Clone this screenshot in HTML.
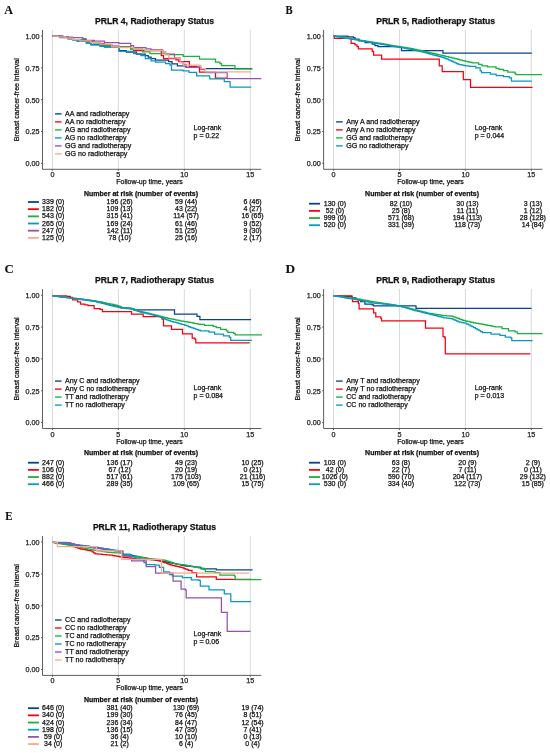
<!DOCTYPE html>
<html><head><meta charset="utf-8"><style>
html,body{margin:0;padding:0;background:#fff;}
svg{display:block;will-change:transform;-webkit-font-smoothing:antialiased;} text{stroke:#111;stroke-width:0.25px;font-family:"Liberation Sans", sans-serif;}
</style></head><body>
<svg width="550" height="753" viewBox="0 0 550 753">
<rect width="550" height="753" fill="#fff"/>
<g transform="translate(0,0)">
<text transform="translate(4.24,13.8) scale(0.91,1)" style="font-family:'Liberation Serif', serif;stroke-width:0.1px" font-weight="bold" font-size="13.3" fill="#111">A</text>
<text x="154.5" y="24.1" text-anchor="middle" font-weight="bold" font-size="8.6" fill="#111">PRLR 4, Radiotherapy Status</text>
<line x1="52.4" y1="29.9" x2="52.4" y2="169.3" stroke="#cbcbcb" stroke-width="0.75"/>
<line x1="118.35" y1="29.9" x2="118.35" y2="169.3" stroke="#cbcbcb" stroke-width="0.75"/>
<line x1="184.3" y1="29.9" x2="184.3" y2="169.3" stroke="#cbcbcb" stroke-width="0.75"/>
<line x1="250.25" y1="29.9" x2="250.25" y2="169.3" stroke="#cbcbcb" stroke-width="0.75"/>
<path d="M42.5 29.9V169.3H261.3" fill="none" stroke="#4d4d4d" stroke-width="0.9"/>
<line x1="41" y1="36" x2="42.5" y2="36" stroke="#4d4d4d" stroke-width="0.9"/>
<text x="39.6" y="38.85" text-anchor="end" font-size="7.2" fill="#333333" stroke="#333333">1.00</text>
<line x1="41" y1="67.84" x2="42.5" y2="67.84" stroke="#4d4d4d" stroke-width="0.9"/>
<text x="39.6" y="70.69" text-anchor="end" font-size="7.2" fill="#333333" stroke="#333333">0.75</text>
<line x1="41" y1="99.67" x2="42.5" y2="99.67" stroke="#4d4d4d" stroke-width="0.9"/>
<text x="39.6" y="102.52" text-anchor="end" font-size="7.2" fill="#333333" stroke="#333333">0.50</text>
<line x1="41" y1="131.51" x2="42.5" y2="131.51" stroke="#4d4d4d" stroke-width="0.9"/>
<text x="39.6" y="134.36" text-anchor="end" font-size="7.2" fill="#333333" stroke="#333333">0.25</text>
<line x1="41" y1="163.35" x2="42.5" y2="163.35" stroke="#4d4d4d" stroke-width="0.9"/>
<text x="39.6" y="166.2" text-anchor="end" font-size="7.2" fill="#333333" stroke="#333333">0.00</text>
<line x1="52.4" y1="169.3" x2="52.4" y2="170.8" stroke="#4d4d4d" stroke-width="0.9"/>
<text x="52.4" y="177.3" text-anchor="middle" font-size="7.2" fill="#333333" stroke="#333333">0</text>
<line x1="118.35" y1="169.3" x2="118.35" y2="170.8" stroke="#4d4d4d" stroke-width="0.9"/>
<text x="118.35" y="177.3" text-anchor="middle" font-size="7.2" fill="#333333" stroke="#333333">5</text>
<line x1="184.3" y1="169.3" x2="184.3" y2="170.8" stroke="#4d4d4d" stroke-width="0.9"/>
<text x="184.3" y="177.3" text-anchor="middle" font-size="7.2" fill="#333333" stroke="#333333">10</text>
<line x1="250.25" y1="169.3" x2="250.25" y2="170.8" stroke="#4d4d4d" stroke-width="0.9"/>
<text x="250.25" y="177.3" text-anchor="middle" font-size="7.2" fill="#333333" stroke="#333333">15</text>
<text x="149.5" y="184.2" text-anchor="middle" font-size="7" fill="#111">Follow-up time, years</text>
<text transform="translate(18.9,99.7) rotate(-90)" text-anchor="middle" font-size="7.1" fill="#111">Breast cancer-free interval</text>
</g>
<path d="M52.5 36.1H60V37.3H68V38.6H72.7V39.6H77.3V41.1H86.4V42.9H91V44.5H100V45.9H104.5V46.9H119.1V50.6H126.4V52H136.5V54.2H145.3V55.7H148.2V57.2H151.1V58.6H155.5V60H168.6V61.5H172V63.8H177.4V65.8H186V67.3H199.5V68.6H252" fill="none" stroke="#0a428c" stroke-width="1.25"/>
<path d="M52.5 36.1H62V37.3H72.7V39.5H80V40.6H86V41.4H93V42.5H100V43.5H104.5V44.8H111.8V46.2H119V46.9H130.7V48.8H133.6V50.6H161.3V55.7H163.5V58.6H176V59.8H178.8V61.5H189.4V66.4H196.6V67.1H199.5V72.2H215.5V78H227.2" fill="none" stroke="#f70012" stroke-width="1.25"/>
<path d="M52.5 36.1H62V37.3H72.7V39.6H86V41.8H93.7V42.8H100V44.5H104.5V45.3H111.8V46.9H130.7V49.1H142.4V51.8H150V53.5H165.6V54.5H183.2V56.4H199.5V59.1H215.5V62H220V63.5H221.4V65.7H235V68.9H252.6" fill="none" stroke="#18b23c" stroke-width="1.25"/>
<path d="M52.5 36.1H60V37.6H68V38.8H72.7V39.8H77.3V41.4H86.4V43.2H91V44.8H100V46.4H104.5V47.1H119.1V51.3H133.6V53.5H140.9V55.7H145.3V58.6H151.1V60.8H155.5V62.2H165.6V63.7H170V65.1H171.5V70.2H183V70.9H189V72.4H196.6V75.8H209.7V78.8H224.3V81.7H230.1V87.2H251.2" fill="none" stroke="#0a98be" stroke-width="1.25"/>
<path d="M52.5 36.1H63V36.8H68.2V37.6H82.7V38.5H86V40.4H94.4V41.1H104.5V42.6H119V43.3H130.7V45.5H133.6V47.7H146V48.8H151V49.8H162.7V52H165.6V53.5H168.6V54.2H174.5V57.8H180.3V61.5H183.2V64.4H186V67.3H201V69.3H205.4V72.6H227.2V78.5H261.4" fill="none" stroke="#9850b0" stroke-width="1.25"/>
<path d="M52.5 36.1H58V36.8H65.5V38.2H72.7V39.6H80V40.9H90.9V42.3H100V44.1H111.8V46.8H119V47.7H133.6V49.1H145V50.6H162.8V52.8H165.6V54.2H168.6V57.8H180.3V62.9H183.2V65.1H199.5V65.7H201V68.6H205.4V71.9H251.2" fill="none" stroke="#fca889" stroke-width="1.25"/>
<g transform="translate(0,0)">
<line x1="55" y1="113.9" x2="61.6" y2="113.9" stroke="#0a428c" stroke-width="1.35"/>
<text x="65.1" y="116.1" font-size="7.1" fill="#111">AA and radiotherapy</text>
<line x1="55" y1="121.9" x2="61.6" y2="121.9" stroke="#f70012" stroke-width="1.35"/>
<text x="65.1" y="124.1" font-size="7.1" fill="#111">AA no radiotherapy</text>
<line x1="55" y1="129.9" x2="61.6" y2="129.9" stroke="#18b23c" stroke-width="1.35"/>
<text x="65.1" y="132.1" font-size="7.1" fill="#111">AG and radiotherapy</text>
<line x1="55" y1="137.9" x2="61.6" y2="137.9" stroke="#0a98be" stroke-width="1.35"/>
<text x="65.1" y="140.1" font-size="7.1" fill="#111">AG no radiotherapy</text>
<line x1="55" y1="145.9" x2="61.6" y2="145.9" stroke="#9850b0" stroke-width="1.35"/>
<text x="65.1" y="148.1" font-size="7.1" fill="#111">GG and radiotherapy</text>
<line x1="55" y1="153.9" x2="61.6" y2="153.9" stroke="#fca889" stroke-width="1.35"/>
<text x="65.1" y="156.1" font-size="7.1" fill="#111">GG no radiotherapy</text>
<text x="193.6" y="130.3" font-size="7" fill="#111">Log-rank</text>
<text x="193.6" y="138" font-size="7" fill="#111">p = 0.22</text>
<text x="84" y="195.6" font-weight="bold" font-size="7" fill="#111">Number at risk (number of events)</text>
<line x1="27.9" y1="202" x2="38.9" y2="202" stroke="#0a428c" stroke-width="1.8"/>
<text x="53.2" y="204" text-anchor="middle" font-size="7" fill="#111">339 (0)</text>
<text x="119.65" y="204" text-anchor="middle" font-size="7" fill="#111">196 (26)</text>
<text x="186.1" y="204" text-anchor="middle" font-size="7" fill="#111">59 (44)</text>
<text x="252.55" y="204" text-anchor="middle" font-size="7" fill="#111">6 (46)</text>
<line x1="27.9" y1="209.17" x2="38.9" y2="209.17" stroke="#f70012" stroke-width="1.8"/>
<text x="53.2" y="211.17" text-anchor="middle" font-size="7" fill="#111">182 (0)</text>
<text x="119.65" y="211.17" text-anchor="middle" font-size="7" fill="#111">109 (13)</text>
<text x="186.1" y="211.17" text-anchor="middle" font-size="7" fill="#111">43 (22)</text>
<text x="252.55" y="211.17" text-anchor="middle" font-size="7" fill="#111">4 (27)</text>
<line x1="27.9" y1="216.34" x2="38.9" y2="216.34" stroke="#18b23c" stroke-width="1.8"/>
<text x="53.2" y="218.34" text-anchor="middle" font-size="7" fill="#111">543 (0)</text>
<text x="119.65" y="218.34" text-anchor="middle" font-size="7" fill="#111">315 (41)</text>
<text x="186.1" y="218.34" text-anchor="middle" font-size="7" fill="#111">114 (57)</text>
<text x="252.55" y="218.34" text-anchor="middle" font-size="7" fill="#111">16 (65)</text>
<line x1="27.9" y1="223.51" x2="38.9" y2="223.51" stroke="#0a98be" stroke-width="1.8"/>
<text x="53.2" y="225.51" text-anchor="middle" font-size="7" fill="#111">265 (0)</text>
<text x="119.65" y="225.51" text-anchor="middle" font-size="7" fill="#111">169 (24)</text>
<text x="186.1" y="225.51" text-anchor="middle" font-size="7" fill="#111">61 (46)</text>
<text x="252.55" y="225.51" text-anchor="middle" font-size="7" fill="#111">9 (52)</text>
<line x1="27.9" y1="230.68" x2="38.9" y2="230.68" stroke="#9850b0" stroke-width="1.8"/>
<text x="53.2" y="232.68" text-anchor="middle" font-size="7" fill="#111">247 (0)</text>
<text x="119.65" y="232.68" text-anchor="middle" font-size="7" fill="#111">142 (11)</text>
<text x="186.1" y="232.68" text-anchor="middle" font-size="7" fill="#111">51 (25)</text>
<text x="252.55" y="232.68" text-anchor="middle" font-size="7" fill="#111">9 (30)</text>
<line x1="27.9" y1="237.85" x2="38.9" y2="237.85" stroke="#fca889" stroke-width="1.8"/>
<text x="53.2" y="239.85" text-anchor="middle" font-size="7" fill="#111">125 (0)</text>
<text x="119.65" y="239.85" text-anchor="middle" font-size="7" fill="#111">78 (10)</text>
<text x="186.1" y="239.85" text-anchor="middle" font-size="7" fill="#111">25 (16)</text>
<text x="252.55" y="239.85" text-anchor="middle" font-size="7" fill="#111">2 (17)</text>
</g>
<g transform="translate(281.1,0)">
<text transform="translate(4.32,13.8) scale(0.8,1)" style="font-family:'Liberation Serif', serif;stroke-width:0.1px" font-weight="bold" font-size="13.3" fill="#111">B</text>
<text x="154.5" y="24.1" text-anchor="middle" font-weight="bold" font-size="8.6" fill="#111">PRLR 5, Radiotherapy Status</text>
<line x1="52.4" y1="29.9" x2="52.4" y2="169.3" stroke="#cbcbcb" stroke-width="0.75"/>
<line x1="118.35" y1="29.9" x2="118.35" y2="169.3" stroke="#cbcbcb" stroke-width="0.75"/>
<line x1="184.3" y1="29.9" x2="184.3" y2="169.3" stroke="#cbcbcb" stroke-width="0.75"/>
<line x1="250.25" y1="29.9" x2="250.25" y2="169.3" stroke="#cbcbcb" stroke-width="0.75"/>
<path d="M42.5 29.9V169.3H261.3" fill="none" stroke="#4d4d4d" stroke-width="0.9"/>
<line x1="41" y1="36" x2="42.5" y2="36" stroke="#4d4d4d" stroke-width="0.9"/>
<text x="39.6" y="38.85" text-anchor="end" font-size="7.2" fill="#333333" stroke="#333333">1.00</text>
<line x1="41" y1="67.84" x2="42.5" y2="67.84" stroke="#4d4d4d" stroke-width="0.9"/>
<text x="39.6" y="70.69" text-anchor="end" font-size="7.2" fill="#333333" stroke="#333333">0.75</text>
<line x1="41" y1="99.67" x2="42.5" y2="99.67" stroke="#4d4d4d" stroke-width="0.9"/>
<text x="39.6" y="102.52" text-anchor="end" font-size="7.2" fill="#333333" stroke="#333333">0.50</text>
<line x1="41" y1="131.51" x2="42.5" y2="131.51" stroke="#4d4d4d" stroke-width="0.9"/>
<text x="39.6" y="134.36" text-anchor="end" font-size="7.2" fill="#333333" stroke="#333333">0.25</text>
<line x1="41" y1="163.35" x2="42.5" y2="163.35" stroke="#4d4d4d" stroke-width="0.9"/>
<text x="39.6" y="166.2" text-anchor="end" font-size="7.2" fill="#333333" stroke="#333333">0.00</text>
<line x1="52.4" y1="169.3" x2="52.4" y2="170.8" stroke="#4d4d4d" stroke-width="0.9"/>
<text x="52.4" y="177.3" text-anchor="middle" font-size="7.2" fill="#333333" stroke="#333333">0</text>
<line x1="118.35" y1="169.3" x2="118.35" y2="170.8" stroke="#4d4d4d" stroke-width="0.9"/>
<text x="118.35" y="177.3" text-anchor="middle" font-size="7.2" fill="#333333" stroke="#333333">5</text>
<line x1="184.3" y1="169.3" x2="184.3" y2="170.8" stroke="#4d4d4d" stroke-width="0.9"/>
<text x="184.3" y="177.3" text-anchor="middle" font-size="7.2" fill="#333333" stroke="#333333">10</text>
<line x1="250.25" y1="169.3" x2="250.25" y2="170.8" stroke="#4d4d4d" stroke-width="0.9"/>
<text x="250.25" y="177.3" text-anchor="middle" font-size="7.2" fill="#333333" stroke="#333333">15</text>
<text x="149.5" y="184.2" text-anchor="middle" font-size="7" fill="#111">Follow-up time, years</text>
<text transform="translate(18.9,99.7) rotate(-90)" text-anchor="middle" font-size="7.1" fill="#111">Breast cancer-free interval</text>
</g>
<path d="M333.6 36.1H348V36.8H353.3V37.6H355V39H359.1V40.8H365V42.6H372.2V44.1H375V45.5H378V46.6H399.8V46.8H401.5V50.5H442.9V53.1H531.8" fill="none" stroke="#0a428c" stroke-width="1.25"/>
<path d="M333.6 36.1H334.4V38.3H351.1V43.4H355V44.8H357V46.6H358.4V48.9H372.2V51.4H373.6V55H381.6V59.1H439.3V65.8H442.2V71.6H463.3V79.6H470.5V87.3H532.5" fill="none" stroke="#f70012" stroke-width="1.25"/>
<path d="M333.6 36.1H335.19V36.35H336.78V36.61H338.38V36.86H339.97V37.12H341.56V37.37H343.15V37.62H344.74V37.88H346.33V38.13H347.93V38.39H349.52V38.64H351.11V38.9H352.7V39.15H354.29V39.4H355.88V39.66H357.48V39.91H359.07V40.17H360.66V40.42H362.25V40.67H363.84V40.93H365.43V41.18H367.03V41.44H368.62V41.69H370.21V41.95H371.8V42.2H373.39V42.45H374.98V42.71H376.57V42.96H378.17V43.22H379.76V43.47H381.35V43.72H382.94V43.98H384.53V44.23H386.12V44.49H387.72V44.74H389.31V45H390.9V45.25H392.49V45.5H394.08V45.76H395.68V46.01H397.27V46.27H398.86V46.52H400.45V46.77H402.04V47.03H403.63V47.28H405.23V47.54H406.82V47.79H408.41V48.05H410V48.3H411.6V48.66H413.2V49.02H414.8V49.39H416.4V49.75H418V50.11H419.6V50.47H421.2V50.83H422.8V51.2H424.4V51.56H426V51.92H427.6V52.28H429.2V52.64H430.8V53H432.4V53.37H434V53.73H435.6V54.09H437.2V54.45H438.8V54.81H440.4V55.18H442V55.54H443.6V55.9H445.16V56.29H446.73V56.67H448.29V57.06H449.86V57.44H451.42V57.83H452.99V58.21H454.55V58.6H456.11V58.99H457.68V59.37H459.24V59.76H460.81V60.14H462.37V60.53H463.94V60.91H465.5V61.3H467.12V61.67H468.75V62.05H470.38V62.42H472V62.8H478.7V64.3H482V65.8H487.5V66.8H496V68.3H499V69.4H503.5V70.6H507.8V72H515V73.3H515.8V74.5H542" fill="none" stroke="#18b23c" stroke-width="1.25"/>
<path d="M333.6 36.1H335.19V36.37H336.78V36.65H338.38V36.92H339.97V37.2H341.56V37.47H343.15V37.75H344.74V38.02H346.33V38.3H347.93V38.57H349.52V38.85H351.11V39.12H352.7V39.4H354.29V39.67H355.88V39.95H357.48V40.22H359.07V40.5H360.66V40.77H362.25V41.05H363.84V41.32H365.43V41.6H367.03V41.87H368.62V42.15H370.21V42.42H371.8V42.7H373.39V42.97H374.98V43.25H376.57V43.52H378.17V43.8H379.76V44.07H381.35V44.35H382.94V44.62H384.53V44.9H386.12V45.17H387.72V45.45H389.31V45.72H390.9V46H392.49V46.27H394.08V46.55H395.68V46.82H397.27V47.1H398.86V47.38H400.45V47.65H402.04V47.92H403.63V48.2H405.23V48.47H406.82V48.75H408.41V49.02H410V49.3H411.69V49.67H413.37V50.04H415.06V50.41H416.74V50.79H418.43V51.16H420.11V51.53H421.8V51.9H423.36V52.32H424.91V52.74H426.47V53.16H428.03V53.59H429.59V54.01H431.14V54.43H432.7V54.85H434.26V55.27H435.81V55.69H437.37V56.11H438.93V56.54H440.49V56.96H442.04V57.38H443.6V57.8H445.22V58.52H446.84V59.24H448.47V59.97H450.09V60.69H451.71V61.41H453.33V62.13H454.96V62.86H456.58V63.58H458.2V64.3H459.66V64.6H461.12V64.9H462.58V65.2H464.04V65.5H465.5V65.8H467V65.97H468.5V66.13H470V66.3H475.8V67.8H480.2V70.8H481.6V72.6H490.4V74H496.2V75.5H503.5V76.7H509.3V77.8H511.5V81H531.8" fill="none" stroke="#0a98be" stroke-width="1.25"/>
<g transform="translate(281.1,0)">
<line x1="55" y1="121.9" x2="61.6" y2="121.9" stroke="#0a428c" stroke-width="1.35"/>
<text x="65.1" y="124.1" font-size="7.1" fill="#111">Any A and radiotherapy</text>
<line x1="55" y1="129.9" x2="61.6" y2="129.9" stroke="#f70012" stroke-width="1.35"/>
<text x="65.1" y="132.1" font-size="7.1" fill="#111">Any A no radiotherapy</text>
<line x1="55" y1="137.9" x2="61.6" y2="137.9" stroke="#18b23c" stroke-width="1.35"/>
<text x="65.1" y="140.1" font-size="7.1" fill="#111">GG and radiotherapy</text>
<line x1="55" y1="145.9" x2="61.6" y2="145.9" stroke="#0a98be" stroke-width="1.35"/>
<text x="65.1" y="148.1" font-size="7.1" fill="#111">GG no radiotherapy</text>
<text x="193.6" y="130.3" font-size="7" fill="#111">Log-rank</text>
<text x="193.6" y="138" font-size="7" fill="#111">p = 0.044</text>
<text x="84" y="195.6" font-weight="bold" font-size="7" fill="#111">Number at risk (number of events)</text>
<line x1="27.9" y1="203.7" x2="38.9" y2="203.7" stroke="#0a428c" stroke-width="1.8"/>
<text x="53.8" y="205.7" text-anchor="middle" font-size="7" fill="#111">130 (0)</text>
<text x="119.85" y="205.7" text-anchor="middle" font-size="7" fill="#111">82 (10)</text>
<text x="186.3" y="205.7" text-anchor="middle" font-size="7" fill="#111">30 (13)</text>
<text x="251.75" y="205.7" text-anchor="middle" font-size="7" fill="#111">3 (13)</text>
<line x1="27.9" y1="210.87" x2="38.9" y2="210.87" stroke="#f70012" stroke-width="1.8"/>
<text x="53.8" y="212.87" text-anchor="middle" font-size="7" fill="#111">52 (0)</text>
<text x="119.85" y="212.87" text-anchor="middle" font-size="7" fill="#111">25 (8)</text>
<text x="186.3" y="212.87" text-anchor="middle" font-size="7" fill="#111">11 (11)</text>
<text x="251.75" y="212.87" text-anchor="middle" font-size="7" fill="#111">1 (12)</text>
<line x1="27.9" y1="218.04" x2="38.9" y2="218.04" stroke="#18b23c" stroke-width="1.8"/>
<text x="53.8" y="220.04" text-anchor="middle" font-size="7" fill="#111">999 (0)</text>
<text x="119.85" y="220.04" text-anchor="middle" font-size="7" fill="#111">571 (68)</text>
<text x="186.3" y="220.04" text-anchor="middle" font-size="7" fill="#111">194 (113)</text>
<text x="251.75" y="220.04" text-anchor="middle" font-size="7" fill="#111">28 (128)</text>
<line x1="27.9" y1="225.21" x2="38.9" y2="225.21" stroke="#0a98be" stroke-width="1.8"/>
<text x="53.8" y="227.21" text-anchor="middle" font-size="7" fill="#111">520 (0)</text>
<text x="119.85" y="227.21" text-anchor="middle" font-size="7" fill="#111">331 (39)</text>
<text x="186.3" y="227.21" text-anchor="middle" font-size="7" fill="#111">118 (73)</text>
<text x="251.75" y="227.21" text-anchor="middle" font-size="7" fill="#111">14 (84)</text>
</g>
<g transform="translate(0,259.2)">
<text transform="translate(4.48,13.8) scale(0.96,1)" style="font-family:'Liberation Serif', serif;stroke-width:0.1px" font-weight="bold" font-size="13.3" fill="#111">C</text>
<text x="154.5" y="24.1" text-anchor="middle" font-weight="bold" font-size="8.6" fill="#111">PRLR 7, Radiotherapy Status</text>
<line x1="52.4" y1="29.9" x2="52.4" y2="169.3" stroke="#cbcbcb" stroke-width="0.75"/>
<line x1="118.35" y1="29.9" x2="118.35" y2="169.3" stroke="#cbcbcb" stroke-width="0.75"/>
<line x1="184.3" y1="29.9" x2="184.3" y2="169.3" stroke="#cbcbcb" stroke-width="0.75"/>
<line x1="250.25" y1="29.9" x2="250.25" y2="169.3" stroke="#cbcbcb" stroke-width="0.75"/>
<path d="M42.5 29.9V169.3H261.3" fill="none" stroke="#4d4d4d" stroke-width="0.9"/>
<line x1="41" y1="36" x2="42.5" y2="36" stroke="#4d4d4d" stroke-width="0.9"/>
<text x="39.6" y="38.85" text-anchor="end" font-size="7.2" fill="#333333" stroke="#333333">1.00</text>
<line x1="41" y1="67.84" x2="42.5" y2="67.84" stroke="#4d4d4d" stroke-width="0.9"/>
<text x="39.6" y="70.69" text-anchor="end" font-size="7.2" fill="#333333" stroke="#333333">0.75</text>
<line x1="41" y1="99.67" x2="42.5" y2="99.67" stroke="#4d4d4d" stroke-width="0.9"/>
<text x="39.6" y="102.52" text-anchor="end" font-size="7.2" fill="#333333" stroke="#333333">0.50</text>
<line x1="41" y1="131.51" x2="42.5" y2="131.51" stroke="#4d4d4d" stroke-width="0.9"/>
<text x="39.6" y="134.36" text-anchor="end" font-size="7.2" fill="#333333" stroke="#333333">0.25</text>
<line x1="41" y1="163.35" x2="42.5" y2="163.35" stroke="#4d4d4d" stroke-width="0.9"/>
<text x="39.6" y="166.2" text-anchor="end" font-size="7.2" fill="#333333" stroke="#333333">0.00</text>
<line x1="52.4" y1="169.3" x2="52.4" y2="170.8" stroke="#4d4d4d" stroke-width="0.9"/>
<text x="52.4" y="177.7" text-anchor="middle" font-size="7.2" fill="#333333" stroke="#333333">0</text>
<line x1="118.35" y1="169.3" x2="118.35" y2="170.8" stroke="#4d4d4d" stroke-width="0.9"/>
<text x="118.35" y="177.7" text-anchor="middle" font-size="7.2" fill="#333333" stroke="#333333">5</text>
<line x1="184.3" y1="169.3" x2="184.3" y2="170.8" stroke="#4d4d4d" stroke-width="0.9"/>
<text x="184.3" y="177.7" text-anchor="middle" font-size="7.2" fill="#333333" stroke="#333333">10</text>
<line x1="250.25" y1="169.3" x2="250.25" y2="170.8" stroke="#4d4d4d" stroke-width="0.9"/>
<text x="250.25" y="177.7" text-anchor="middle" font-size="7.2" fill="#333333" stroke="#333333">15</text>
<text x="149.5" y="184.6" text-anchor="middle" font-size="7" fill="#111">Follow-up time, years</text>
<text transform="translate(18.9,99.7) rotate(-90)" text-anchor="middle" font-size="7.1" fill="#111">Breast cancer-free interval</text>
</g>
<path d="M52.6 295.8H54.16V295.99H55.72V296.18H57.28V296.36H58.84V296.55H60.39V296.74H61.95V296.93H63.51V297.12H65.07V297.31H66.63V297.49H68.19V297.68H69.75V297.87H71.31V298.06H72.86V298.25H74.42V298.44H75.98V298.62H77.54V298.81H79.1V299H80.71V299.24H82.32V299.49H83.93V299.73H85.54V299.98H87.16V300.22H88.77V300.47H90.38V300.71H91.99V300.96H93.6V301.2H95.06V301.4H96.52V301.6H97.98V301.8H99.44V302H100.9V302.2H102.6V302.77H104.3V303.33H106V303.9H107.7V304.47H109.4V305.03H111.1V305.6H112.56V305.74H114.02V305.88H115.48V306.02H116.94V306.16H118.4V306.3H119.85V307.05H121.3V307.8H123.04V307.94H124.78V308.08H126.52V308.22H128.26V308.36H130V308.5H133.7V309.8H174.5V314.1H197V316.3H199.9V319.5H251.1" fill="none" stroke="#0a428c" stroke-width="1.25"/>
<path d="M52.6 295.8H66.7V296.3H70.4V297.3H72.5V299.8H77.6V301.9H80.5V304.1H85V304.8H88V305.6H94.1V308.5H100V309.3H102.4V311.5H131.5V314.1H143.2V316.6H162.1V319.2H163.5V325.8H171.5V329.4H182.5V333.8H192.2V338.1H195V339.3H195.8V342.8H249.6" fill="none" stroke="#f70012" stroke-width="1.25"/>
<path d="M52.6 295.8H54.18V295.99H55.75V296.18H57.33V296.38H58.91V296.57H60.48V296.76H62.06V296.95H63.64V297.15H65.22V297.34H66.79V297.53H68.37V297.72H69.95V297.92H71.52V298.11H73.1V298.3H74.68V298.49H76.25V298.68H77.83V298.88H79.41V299.07H80.98V299.26H82.56V299.45H84.14V299.65H85.72V299.84H87.29V300.03H88.87V300.22H90.45V300.42H92.02V300.61H93.6V300.8H95.16V301.11H96.73V301.41H98.29V301.72H99.86V302.03H101.42V302.34H102.99V302.64H104.55V302.95H106.11V303.26H107.68V303.56H109.24V303.87H110.81V304.18H112.37V304.49H113.94V304.79H115.5V305.1H116.95V305.7H118.4V306.3H119.85V306.9H121.3V307.5H123.04V307.62H124.78V307.74H126.52V307.86H128.26V307.98H130V308.1H131.58V308.63H133.17V309.17H134.75V309.7H136.33V310.23H137.92V310.77H139.5V311.3H141.12V311.69H142.74V312.08H144.37V312.47H145.99V312.86H147.61V313.24H149.23V313.63H150.86V314.02H152.48V314.41H154.1V314.8H155.71V315.21H157.32V315.62H158.93V316.03H160.54V316.44H162.16V316.86H163.77V317.27H165.38V317.68H166.99V318.09H168.6V318.5H170.22V318.82H171.84V319.14H173.47V319.47H175.09V319.79H176.71V320.11H178.33V320.43H179.96V320.76H181.58V321.08H183.2V321.4H184.73V321.66H186.25V321.93H187.78V322.19H189.31V322.45H190.84V322.72H192.36V322.98H193.89V323.25H195.42V323.51H196.95V323.77H198.47V324.04H200V324.3H204.5V325.3H213.3V326.3H216.2V327.6H220.5V329.4H226.4V330.8H227.8V332.3H233.6V333.3H235.1V334.9H262" fill="none" stroke="#18b23c" stroke-width="1.25"/>
<path d="M52.6 295.8H54.18V296.01H55.75V296.22H57.33V296.43H58.91V296.65H60.48V296.86H62.06V297.07H63.64V297.28H65.22V297.49H66.79V297.7H68.37V297.92H69.95V298.13H71.52V298.34H73.1V298.55H74.68V298.76H76.25V298.97H77.83V299.18H79.41V299.4H80.98V299.61H82.56V299.82H84.14V300.03H85.72V300.24H87.29V300.45H88.87V300.67H90.45V300.88H92.02V301.09H93.6V301.3H95.23V301.7H96.86V302.1H98.49V302.5H100.12V302.9H101.75V303.3H103.38V303.7H105.01V304.1H106.64V304.5H108.26V304.9H109.89V305.3H111.52V305.7H113.15V306.1H114.78V306.5H116.41V306.9H118.04V307.3H119.67V307.7H121.3V308.1H123.04V308.24H124.78V308.38H126.52V308.52H128.26V308.66H130V308.8H131.58V309.32H133.17V309.83H134.75V310.35H136.33V310.87H137.92V311.38H139.5V311.9H141.09V312.27H142.68V312.65H144.27V313.02H145.86V313.39H147.45V313.76H149.05V314.14H150.64V314.51H152.23V314.88H153.82V315.25H155.41V315.63H157V316H158.66V316.67H160.31V317.34H161.97V318.01H163.63V318.69H165.29V319.36H166.94V320.03H168.6V320.7H170.22V321.14H171.84V321.59H173.47V322.03H175.09V322.48H176.71V322.92H178.33V323.37H179.96V323.81H181.58V324.26H183.2V324.7H184.94V325.34H186.68V325.98H188.42V326.62H190.16V327.26H191.9V327.9H193.56V328.48H195.22V329.06H196.88V329.64H198.54V330.22H200.2V330.8H209V332H214.7V334H223.5V335.9H229.3V337.3H230.7V340.3H251.8" fill="none" stroke="#0a98be" stroke-width="1.25"/>
<g transform="translate(0,259.2)">
<line x1="55" y1="121.9" x2="61.6" y2="121.9" stroke="#0a428c" stroke-width="1.35"/>
<text x="65.1" y="124.1" font-size="7.1" fill="#111">Any C and radiotherapy</text>
<line x1="55" y1="129.9" x2="61.6" y2="129.9" stroke="#f70012" stroke-width="1.35"/>
<text x="65.1" y="132.1" font-size="7.1" fill="#111">Any C no radiotherapy</text>
<line x1="55" y1="137.9" x2="61.6" y2="137.9" stroke="#18b23c" stroke-width="1.35"/>
<text x="65.1" y="140.1" font-size="7.1" fill="#111">TT and radiotherapy</text>
<line x1="55" y1="145.9" x2="61.6" y2="145.9" stroke="#0a98be" stroke-width="1.35"/>
<text x="65.1" y="148.1" font-size="7.1" fill="#111">TT no radiotherapy</text>
<text x="193.6" y="130.7" font-size="7" fill="#111">Log-rank</text>
<text x="193.6" y="138.4" font-size="7" fill="#111">p = 0.084</text>
<text x="84" y="196" font-weight="bold" font-size="7" fill="#111">Number at risk (number of events)</text>
<line x1="27.9" y1="203.5" x2="38.9" y2="203.5" stroke="#0a428c" stroke-width="1.8"/>
<text x="53.2" y="205.5" text-anchor="middle" font-size="7" fill="#111">247 (0)</text>
<text x="119.65" y="205.5" text-anchor="middle" font-size="7" fill="#111">136 (17)</text>
<text x="186.1" y="205.5" text-anchor="middle" font-size="7" fill="#111">49 (23)</text>
<text x="252.55" y="205.5" text-anchor="middle" font-size="7" fill="#111">10 (25)</text>
<line x1="27.9" y1="210.67" x2="38.9" y2="210.67" stroke="#f70012" stroke-width="1.8"/>
<text x="53.2" y="212.67" text-anchor="middle" font-size="7" fill="#111">106 (0)</text>
<text x="119.65" y="212.67" text-anchor="middle" font-size="7" fill="#111">67 (12)</text>
<text x="186.1" y="212.67" text-anchor="middle" font-size="7" fill="#111">20 (19)</text>
<text x="252.55" y="212.67" text-anchor="middle" font-size="7" fill="#111">0 (21)</text>
<line x1="27.9" y1="217.84" x2="38.9" y2="217.84" stroke="#18b23c" stroke-width="1.8"/>
<text x="53.2" y="219.84" text-anchor="middle" font-size="7" fill="#111">882 (0)</text>
<text x="119.65" y="219.84" text-anchor="middle" font-size="7" fill="#111">517 (61)</text>
<text x="186.1" y="219.84" text-anchor="middle" font-size="7" fill="#111">175 (103)</text>
<text x="252.55" y="219.84" text-anchor="middle" font-size="7" fill="#111">21 (116)</text>
<line x1="27.9" y1="225.01" x2="38.9" y2="225.01" stroke="#0a98be" stroke-width="1.8"/>
<text x="53.2" y="227.01" text-anchor="middle" font-size="7" fill="#111">466 (0)</text>
<text x="119.65" y="227.01" text-anchor="middle" font-size="7" fill="#111">289 (35)</text>
<text x="186.1" y="227.01" text-anchor="middle" font-size="7" fill="#111">109 (65)</text>
<text x="252.55" y="227.01" text-anchor="middle" font-size="7" fill="#111">15 (75)</text>
</g>
<g transform="translate(281.1,259.2)">
<text transform="translate(4.46,13.8) scale(1,1)" style="font-family:'Liberation Serif', serif;stroke-width:0.1px" font-weight="bold" font-size="13.3" fill="#111">D</text>
<text x="154.5" y="24.1" text-anchor="middle" font-weight="bold" font-size="8.6" fill="#111">PRLR 9, Radiotherapy Status</text>
<line x1="52.4" y1="29.9" x2="52.4" y2="169.3" stroke="#cbcbcb" stroke-width="0.75"/>
<line x1="118.35" y1="29.9" x2="118.35" y2="169.3" stroke="#cbcbcb" stroke-width="0.75"/>
<line x1="184.3" y1="29.9" x2="184.3" y2="169.3" stroke="#cbcbcb" stroke-width="0.75"/>
<line x1="250.25" y1="29.9" x2="250.25" y2="169.3" stroke="#cbcbcb" stroke-width="0.75"/>
<path d="M42.5 29.9V169.3H261.3" fill="none" stroke="#4d4d4d" stroke-width="0.9"/>
<line x1="41" y1="36" x2="42.5" y2="36" stroke="#4d4d4d" stroke-width="0.9"/>
<text x="39.6" y="38.85" text-anchor="end" font-size="7.2" fill="#333333" stroke="#333333">1.00</text>
<line x1="41" y1="67.84" x2="42.5" y2="67.84" stroke="#4d4d4d" stroke-width="0.9"/>
<text x="39.6" y="70.69" text-anchor="end" font-size="7.2" fill="#333333" stroke="#333333">0.75</text>
<line x1="41" y1="99.67" x2="42.5" y2="99.67" stroke="#4d4d4d" stroke-width="0.9"/>
<text x="39.6" y="102.52" text-anchor="end" font-size="7.2" fill="#333333" stroke="#333333">0.50</text>
<line x1="41" y1="131.51" x2="42.5" y2="131.51" stroke="#4d4d4d" stroke-width="0.9"/>
<text x="39.6" y="134.36" text-anchor="end" font-size="7.2" fill="#333333" stroke="#333333">0.25</text>
<line x1="41" y1="163.35" x2="42.5" y2="163.35" stroke="#4d4d4d" stroke-width="0.9"/>
<text x="39.6" y="166.2" text-anchor="end" font-size="7.2" fill="#333333" stroke="#333333">0.00</text>
<line x1="52.4" y1="169.3" x2="52.4" y2="170.8" stroke="#4d4d4d" stroke-width="0.9"/>
<text x="52.4" y="177.7" text-anchor="middle" font-size="7.2" fill="#333333" stroke="#333333">0</text>
<line x1="118.35" y1="169.3" x2="118.35" y2="170.8" stroke="#4d4d4d" stroke-width="0.9"/>
<text x="118.35" y="177.7" text-anchor="middle" font-size="7.2" fill="#333333" stroke="#333333">5</text>
<line x1="184.3" y1="169.3" x2="184.3" y2="170.8" stroke="#4d4d4d" stroke-width="0.9"/>
<text x="184.3" y="177.7" text-anchor="middle" font-size="7.2" fill="#333333" stroke="#333333">10</text>
<line x1="250.25" y1="169.3" x2="250.25" y2="170.8" stroke="#4d4d4d" stroke-width="0.9"/>
<text x="250.25" y="177.7" text-anchor="middle" font-size="7.2" fill="#333333" stroke="#333333">15</text>
<text x="149.5" y="184.6" text-anchor="middle" font-size="7" fill="#111">Follow-up time, years</text>
<text transform="translate(18.9,99.7) rotate(-90)" text-anchor="middle" font-size="7.1" fill="#111">Breast cancer-free interval</text>
</g>
<path d="M333.6 295.8H340V296.3H352V297.9H356V299.3H360.5V301.6H364.9V304.1H372V304.8H373.6V305.9H416V308.4H531.5" fill="none" stroke="#0a428c" stroke-width="1.25"/>
<path d="M333.6 295.8H351.8V297.6H352.5V301.6H358.4V303.3H359.1V308.9H373.6V312.8H375.8V316.9H380.9V318.3H381.6V320.9H425.5V328.1H443V336.5H444.8V337.8H445.3V353.8H530.4" fill="none" stroke="#f70012" stroke-width="1.25"/>
<path d="M333.6 295.8H335.19V296.02H336.78V296.24H338.36V296.46H339.95V296.68H341.54V296.89H343.12V297.11H344.71V297.33H346.3V297.55H347.89V297.77H349.48V297.99H351.06V298.21H352.65V298.43H354.24V298.64H355.82V298.86H357.41V299.08H359V299.3H360.62V299.59H362.24V299.88H363.87V300.17H365.49V300.46H367.11V300.74H368.73V301.03H370.36V301.32H371.98V301.61H373.6V301.9H375.22V302.14H376.84V302.39H378.47V302.63H380.09V302.88H381.71V303.12H383.33V303.37H384.96V303.61H386.58V303.86H388.2V304.1H389.89V304.39H391.57V304.67H393.26V304.96H394.94V305.24H396.63V305.53H398.31V305.81H400V306.1H401.61V306.51H403.22V306.92H404.83V307.33H406.44V307.74H408.06V308.16H409.67V308.57H411.28V308.98H412.89V309.39H414.5V309.8H416.11V310.2H417.72V310.6H419.33V311H420.94V311.4H422.56V311.8H424.17V312.2H425.78V312.6H427.39V313H429V313.4H430.62V313.64H432.24V313.89H433.87V314.13H435.49V314.38H437.11V314.62H438.73V314.87H440.36V315.11H441.98V315.36H443.6V315.6H445.06V315.68H446.52V315.76H447.98V315.84H449.44V315.92H450.9V316H452.59V316.61H454.27V317.23H455.96V317.84H457.64V318.46H459.33V319.07H461.01V319.69H462.7V320.3H464.26V320.66H465.81V321.01H467.37V321.37H468.93V321.73H470.49V322.09H472.04V322.44H473.6V322.8H475.16V323.07H476.71V323.34H478.27V323.61H479.83V323.89H481.39V324.16H482.94V324.43H484.5V324.7H486.07V325.01H487.64V325.33H489.21V325.64H490.79V325.96H492.36V326.27H493.93V326.59H495.5V326.9H502V328.7H508.5V330.8H515V331.9H517.3V333.5H542.4" fill="none" stroke="#18b23c" stroke-width="1.25"/>
<path d="M333.6 295.8H335.19V296.08H336.78V296.36H338.36V296.64H339.95V296.93H341.54V297.21H343.12V297.49H344.71V297.77H346.3V298.05H347.89V298.33H349.48V298.61H351.06V298.89H352.65V299.18H354.24V299.46H355.82V299.74H357.41V300.02H359V300.3H360.62V300.61H362.24V300.92H363.87V301.23H365.49V301.54H367.11V301.86H368.73V302.17H370.36V302.48H371.98V302.79H373.6V303.1H375.18V303.25H376.76V303.41H378.35V303.56H379.93V303.72H381.51V303.87H383.09V304.03H384.67V304.18H386.25V304.34H387.84V304.49H389.42V304.65H391V304.8H392.5V305.05H394V305.3H395.5V305.55H397V305.8H398.5V306.05H400V306.3H401.61V306.77H403.22V307.23H404.83V307.7H406.44V308.17H408.06V308.63H409.67V309.1H411.28V309.57H412.89V310.03H414.5V310.5H416.11V310.9H417.72V311.3H419.33V311.7H420.94V312.1H422.56V312.5H424.17V312.9H425.78V313.3H427.39V313.7H429V314.1H430.62V314.51H432.24V314.92H433.87V315.33H435.49V315.74H437.11V316.16H438.73V316.57H440.36V316.98H441.98V317.39H443.6V317.8H445.06V317.94H446.52V318.08H447.98V318.22H449.44V318.36H450.9V318.5H452.36V319.16H453.82V319.82H455.28V320.48H456.74V321.14H458.2V321.8H459.88V322.15H461.55V322.5H463.22V322.85H464.9V323.2H466.64V324.06H468.38V324.92H470.12V325.78H471.86V326.64H473.6V327.5H475.36V328.52H477.12V329.54H478.88V330.56H480.64V331.58H482.4V332.6H491V334.1H500V335.3H505.3V337H510.7V337.8H511.8V340.7H532.6" fill="none" stroke="#0a98be" stroke-width="1.25"/>
<g transform="translate(281.1,259.2)">
<line x1="55" y1="121.9" x2="61.6" y2="121.9" stroke="#0a428c" stroke-width="1.35"/>
<text x="65.1" y="124.1" font-size="7.1" fill="#111">Any T and radiotherapy</text>
<line x1="55" y1="129.9" x2="61.6" y2="129.9" stroke="#f70012" stroke-width="1.35"/>
<text x="65.1" y="132.1" font-size="7.1" fill="#111">Any T no radiotherapy</text>
<line x1="55" y1="137.9" x2="61.6" y2="137.9" stroke="#18b23c" stroke-width="1.35"/>
<text x="65.1" y="140.1" font-size="7.1" fill="#111">CC and radiotherapy</text>
<line x1="55" y1="145.9" x2="61.6" y2="145.9" stroke="#0a98be" stroke-width="1.35"/>
<text x="65.1" y="148.1" font-size="7.1" fill="#111">CC no radiotherapy</text>
<text x="193.6" y="130.7" font-size="7" fill="#111">Log-rank</text>
<text x="193.6" y="138.4" font-size="7" fill="#111">p = 0.013</text>
<text x="84" y="196" font-weight="bold" font-size="7" fill="#111">Number at risk (number of events)</text>
<line x1="27.9" y1="203.5" x2="38.9" y2="203.5" stroke="#0a428c" stroke-width="1.8"/>
<text x="53.8" y="205.5" text-anchor="middle" font-size="7" fill="#111">103 (0)</text>
<text x="119.85" y="205.5" text-anchor="middle" font-size="7" fill="#111">63 (8)</text>
<text x="186.3" y="205.5" text-anchor="middle" font-size="7" fill="#111">20 (9)</text>
<text x="251.75" y="205.5" text-anchor="middle" font-size="7" fill="#111">2 (9)</text>
<line x1="27.9" y1="210.67" x2="38.9" y2="210.67" stroke="#f70012" stroke-width="1.8"/>
<text x="53.8" y="212.67" text-anchor="middle" font-size="7" fill="#111">42 (0)</text>
<text x="119.85" y="212.67" text-anchor="middle" font-size="7" fill="#111">22 (7)</text>
<text x="186.3" y="212.67" text-anchor="middle" font-size="7" fill="#111">7 (11)</text>
<text x="251.75" y="212.67" text-anchor="middle" font-size="7" fill="#111">0 (11)</text>
<line x1="27.9" y1="217.84" x2="38.9" y2="217.84" stroke="#18b23c" stroke-width="1.8"/>
<text x="53.8" y="219.84" text-anchor="middle" font-size="7" fill="#111">1026 (0)</text>
<text x="119.85" y="219.84" text-anchor="middle" font-size="7" fill="#111">590 (70)</text>
<text x="186.3" y="219.84" text-anchor="middle" font-size="7" fill="#111">204 (117)</text>
<text x="251.75" y="219.84" text-anchor="middle" font-size="7" fill="#111">29 (132)</text>
<line x1="27.9" y1="225.01" x2="38.9" y2="225.01" stroke="#0a98be" stroke-width="1.8"/>
<text x="53.8" y="227.01" text-anchor="middle" font-size="7" fill="#111">530 (0)</text>
<text x="119.85" y="227.01" text-anchor="middle" font-size="7" fill="#111">334 (40)</text>
<text x="186.3" y="227.01" text-anchor="middle" font-size="7" fill="#111">122 (73)</text>
<text x="251.75" y="227.01" text-anchor="middle" font-size="7" fill="#111">15 (85)</text>
</g>
<g transform="translate(0,506.1)">
<text transform="translate(5.26,13.8) scale(0.82,1)" style="font-family:'Liberation Serif', serif;stroke-width:0.1px" font-weight="bold" font-size="13.3" fill="#111">E</text>
<text x="154.5" y="24.1" text-anchor="middle" font-weight="bold" font-size="8.6" fill="#111">PRLR 11, Radiotherapy Status</text>
<line x1="52.4" y1="29.9" x2="52.4" y2="169.3" stroke="#cbcbcb" stroke-width="0.75"/>
<line x1="118.35" y1="29.9" x2="118.35" y2="169.3" stroke="#cbcbcb" stroke-width="0.75"/>
<line x1="184.3" y1="29.9" x2="184.3" y2="169.3" stroke="#cbcbcb" stroke-width="0.75"/>
<line x1="250.25" y1="29.9" x2="250.25" y2="169.3" stroke="#cbcbcb" stroke-width="0.75"/>
<path d="M42.5 29.9V169.3H261.3" fill="none" stroke="#4d4d4d" stroke-width="0.9"/>
<line x1="41" y1="36" x2="42.5" y2="36" stroke="#4d4d4d" stroke-width="0.9"/>
<text x="39.6" y="38.85" text-anchor="end" font-size="7.2" fill="#333333" stroke="#333333">1.00</text>
<line x1="41" y1="67.84" x2="42.5" y2="67.84" stroke="#4d4d4d" stroke-width="0.9"/>
<text x="39.6" y="70.69" text-anchor="end" font-size="7.2" fill="#333333" stroke="#333333">0.75</text>
<line x1="41" y1="99.67" x2="42.5" y2="99.67" stroke="#4d4d4d" stroke-width="0.9"/>
<text x="39.6" y="102.52" text-anchor="end" font-size="7.2" fill="#333333" stroke="#333333">0.50</text>
<line x1="41" y1="131.51" x2="42.5" y2="131.51" stroke="#4d4d4d" stroke-width="0.9"/>
<text x="39.6" y="134.36" text-anchor="end" font-size="7.2" fill="#333333" stroke="#333333">0.25</text>
<line x1="41" y1="163.35" x2="42.5" y2="163.35" stroke="#4d4d4d" stroke-width="0.9"/>
<text x="39.6" y="166.2" text-anchor="end" font-size="7.2" fill="#333333" stroke="#333333">0.00</text>
<line x1="52.4" y1="169.3" x2="52.4" y2="170.8" stroke="#4d4d4d" stroke-width="0.9"/>
<text x="52.4" y="177.3" text-anchor="middle" font-size="7.2" fill="#333333" stroke="#333333">0</text>
<line x1="118.35" y1="169.3" x2="118.35" y2="170.8" stroke="#4d4d4d" stroke-width="0.9"/>
<text x="118.35" y="177.3" text-anchor="middle" font-size="7.2" fill="#333333" stroke="#333333">5</text>
<line x1="184.3" y1="169.3" x2="184.3" y2="170.8" stroke="#4d4d4d" stroke-width="0.9"/>
<text x="184.3" y="177.3" text-anchor="middle" font-size="7.2" fill="#333333" stroke="#333333">10</text>
<line x1="250.25" y1="169.3" x2="250.25" y2="170.8" stroke="#4d4d4d" stroke-width="0.9"/>
<text x="250.25" y="177.3" text-anchor="middle" font-size="7.2" fill="#333333" stroke="#333333">15</text>
<text x="149.5" y="184.2" text-anchor="middle" font-size="7" fill="#111">Follow-up time, years</text>
<text transform="translate(18.9,99.7) rotate(-90)" text-anchor="middle" font-size="7.1" fill="#111">Breast cancer-free interval</text>
</g>
<path d="M52.6 542.4H54.2V542.45H55.8V542.5H57.4V542.55H59V542.6H60.6V542.65H62.2V542.7H63.8V542.75H65.4V542.8H67V542.85H68.6V542.9H70.05V543.33H71.5V543.75H72.95V544.17H74.4V544.6H76V544.82H77.6V545.03H79.2V545.25H80.8V545.47H82.4V545.68H84V545.9H85.6V546.12H87.2V546.33H88.8V546.55H90.4V546.77H92V546.98H93.6V547.2H95.22V547.44H96.84V547.69H98.47V547.93H100.09V548.18H101.71V548.42H103.33V548.67H104.96V548.91H106.58V549.16H108.2V549.4H109.86V549.71H111.51V550.03H113.17V550.34H114.83V550.66H116.49V550.97H118.14V551.29H119.8V551.6H122.7V554.5H124.16V554.64H125.62V554.78H127.08V554.92H128.54V555.06H130V555.2H131.6V555.5H133.2V555.81H134.8V556.11H136.4V556.42H138V556.72H139.6V557.03H141.2V557.33H142.8V557.64H144.4V557.94H146V558.25H147.6V558.55H149.2V558.86H150.8V559.16H152.4V559.47H154V559.77H155.6V560.08H157.2V560.38H158.8V560.69H160.4V560.99H162V561.3H163.6V561.6H165.08V561.9H166.56V562.2H168.04V562.5H169.52V562.8H171V563.1H172.61V563.42H174.22V563.74H175.83V564.07H177.44V564.39H179.06V564.71H180.67V565.03H182.28V565.36H183.89V565.68H185.5V566H187.11V566.16H188.72V566.31H190.33V566.47H191.94V566.62H193.56V566.78H195.17V566.93H196.78V567.09H198.39V567.24H200V567.4H201V568.8H216.3V569.8H252.6" fill="none" stroke="#0a428c" stroke-width="1.25"/>
<path d="M52.6 542.4H54.26V542.61H55.91V542.82H57.57V543.03H59.22V543.24H60.88V543.46H62.53V543.67H64.19V543.88H65.84V544.09H67.5V544.3H69.16V544.93H70.81V545.56H72.47V546.19H74.13V546.81H75.79V547.44H77.44V548.07H79.1V548.7H80.76V549.01H82.41V549.33H84.07V549.64H85.73V549.96H87.39V550.27H89.04V550.59H90.7V550.9H92.17V551.87H93.63V552.83H95.1V553.8H96.7V553.94H98.3V554.08H99.9V554.22H101.5V554.36H103.1V554.5H104.7V554.64H106.3V554.78H107.9V554.92H109.5V555.06H111.1V555.2H112.8V555.52H114.5V555.83H116.2V556.15H117.9V556.47H119.6V556.78H121.3V557.1H122.95V557.3H124.6V557.5H126.25V557.7H127.9V557.9H129.55V558.1H131.2V558.3H132.85V558.5H134.5V558.7H136.15V558.81H137.81V558.92H139.46V559.02H141.12V559.13H142.77V559.24H144.42V559.35H146.08V559.45H147.73V559.56H149.38V559.67H151.04V559.78H152.69V559.88H154.35V559.99H156V560.1H157.52V560.54H159.04V560.98H160.56V561.42H162.08V561.86H163.6V562.3H165.06V562.88H166.52V563.46H167.98V564.04H169.44V564.62H170.9V565.2H172.6V565.57H174.3V565.93H176V566.3H177.7V566.67H179.4V567.03H181.1V567.4H182.56V567.98H184.02V568.56H185.48V569.14H186.94V569.72H188.4V570.3H192V572.6H196.6V576.8H216.3V579.4H251.9" fill="none" stroke="#f70012" stroke-width="1.25"/>
<path d="M52.6 542.4H54.16V542.68H55.72V542.96H57.28V543.25H58.84V543.53H60.39V543.81H61.95V544.09H63.51V544.38H65.07V544.66H66.63V544.94H68.19V545.22H69.75V545.51H71.31V545.79H72.86V546.07H74.42V546.35H75.98V546.64H77.54V546.92H79.1V547.2H80.71V547.52H82.32V547.84H83.93V548.17H85.54V548.49H87.16V548.81H88.77V549.13H90.38V549.46H91.99V549.78H93.6V550.1H95.22V550.34H96.84V550.59H98.47V550.83H100.09V551.08H101.71V551.32H103.33V551.57H104.96V551.81H106.58V552.06H108.2V552.3H109.86V552.41H111.51V552.53H113.17V552.64H114.83V552.76H116.49V552.87H118.14V552.99H119.8V553.1H122.7V555.7H124.39V555.81H126.07V555.93H127.76V556.04H129.44V556.16H131.13V556.27H132.81V556.39H134.5V556.5H136.11V556.74H137.72V556.99H139.33V557.23H140.94V557.48H142.56V557.72H144.17V557.97H145.78V558.21H147.39V558.46H149V558.7H150.62V558.86H152.24V559.01H153.87V559.17H155.49V559.32H157.11V559.48H158.73V559.63H160.36V559.79H161.98V559.94H163.6V560.1H165.27V560.63H166.94V561.16H168.61V561.69H170.29V562.21H171.96V562.74H173.63V563.27H175.3V563.8H177V564.03H178.7V564.27H180.4V564.5H182.1V564.73H183.8V564.97H185.5V565.2H187.11V565.52H188.72V565.84H190.33V566.17H191.94V566.49H193.56V566.81H195.17V567.13H196.78V567.46H198.39V567.78H200V568.1H203.9V569.5H205.4V571.7H215V572.6H219.9V575H234.5V576.1H235.2V579.7H261.4" fill="none" stroke="#18b23c" stroke-width="1.25"/>
<path d="M52.6 542.4H54.18V542.57H55.75V542.75H57.33V542.92H58.91V543.09H60.48V543.27H62.06V543.44H63.64V543.61H65.22V543.78H66.79V543.96H68.37V544.13H69.95V544.3H71.52V544.48H73.1V544.65H74.68V544.82H76.25V545H77.83V545.17H79.41V545.34H80.98V545.52H82.56V545.69H84.14V545.86H85.72V546.03H87.29V546.21H88.87V546.38H90.45V546.55H92.02V546.73H93.6V546.9H95.22V547.18H96.84V547.46H98.47V547.73H100.09V548.01H101.71V548.29H103.33V548.57H104.96V548.84H106.58V549.12H108.2V549.4H109.86V549.61H111.51V549.83H113.17V550.04H114.83V550.26H116.49V550.47H118.14V550.69H119.8V550.9H122.7V554.2H130V554.5H131.6V556.5H133.27V557.01H134.94V557.53H136.61V558.04H138.29V558.56H139.96V559.07H141.63V559.59H143.3V560.1H144V562.6H146.2V564.5H155V565.2H159.3V567.4H163.6V571.8H169.5V574.7H172.4V576.1H182.5V577.6H191.3V579.8H198.8V580.4H200.3V586.2H209V589.9H224.3V593.9H230.8V601.5H251.2" fill="none" stroke="#0a98be" stroke-width="1.25"/>
<path d="M52.6 542.4H65V542.4H66.57V542.74H68.13V543.09H69.7V543.43H71.27V543.78H72.83V544.12H74.4V544.47H75.97V544.81H77.53V545.16H79.1V545.5H80.71V545.78H82.32V546.06H83.93V546.33H85.54V546.61H87.16V546.89H88.77V547.17H90.38V547.44H91.99V547.72H93.6V548H95.22V548.23H96.84V548.47H98.47V548.7H100.09V548.93H101.71V549.17H103.33V549.4H104.96V549.63H106.58V549.87H108.2V550.1H109.86V550.27H111.51V550.44H113.17V550.61H114.83V550.79H116.49V550.96H118.14V551.13H119.8V551.3H122.7V556H130V557.1H131.6V560.9H146.2V566.7H155.6V573.2H173.1V581.2H181.1V589.2H185.5V590.1H186.2V597.9H221.4V612.4H227.2V631.3H250.5" fill="none" stroke="#9850b0" stroke-width="1.25"/>
<path d="M52.6 542.4H57.3V546.5H96.5V550.9H121.7V559.4H161.5V573.1H249" fill="none" stroke="#fca889" stroke-width="1.25"/>
<g transform="translate(0,506.1)">
<line x1="55" y1="113.9" x2="61.6" y2="113.9" stroke="#0a428c" stroke-width="1.35"/>
<text x="65.1" y="116.1" font-size="7.1" fill="#111">CC and radiotherapy</text>
<line x1="55" y1="121.9" x2="61.6" y2="121.9" stroke="#f70012" stroke-width="1.35"/>
<text x="65.1" y="124.1" font-size="7.1" fill="#111">CC no radiotherapy</text>
<line x1="55" y1="129.9" x2="61.6" y2="129.9" stroke="#18b23c" stroke-width="1.35"/>
<text x="65.1" y="132.1" font-size="7.1" fill="#111">TC and radiotherapy</text>
<line x1="55" y1="137.9" x2="61.6" y2="137.9" stroke="#0a98be" stroke-width="1.35"/>
<text x="65.1" y="140.1" font-size="7.1" fill="#111">TC no radiotherapy</text>
<line x1="55" y1="145.9" x2="61.6" y2="145.9" stroke="#9850b0" stroke-width="1.35"/>
<text x="65.1" y="148.1" font-size="7.1" fill="#111">TT and radiotherapy</text>
<line x1="55" y1="153.9" x2="61.6" y2="153.9" stroke="#fca889" stroke-width="1.35"/>
<text x="65.1" y="156.1" font-size="7.1" fill="#111">TT no radiotherapy</text>
<text x="193.6" y="130.3" font-size="7" fill="#111">Log-rank</text>
<text x="193.6" y="138" font-size="7" fill="#111">p = 0.06</text>
<text x="84" y="195.6" font-weight="bold" font-size="7" fill="#111">Number at risk (number of events)</text>
<line x1="27.9" y1="202.1" x2="38.9" y2="202.1" stroke="#0a428c" stroke-width="1.8"/>
<text x="53.2" y="204.1" text-anchor="middle" font-size="7" fill="#111">646 (0)</text>
<text x="119.65" y="204.1" text-anchor="middle" font-size="7" fill="#111">381 (40)</text>
<text x="186.1" y="204.1" text-anchor="middle" font-size="7" fill="#111">130 (69)</text>
<text x="252.55" y="204.1" text-anchor="middle" font-size="7" fill="#111">19 (74)</text>
<line x1="27.9" y1="209.27" x2="38.9" y2="209.27" stroke="#f70012" stroke-width="1.8"/>
<text x="53.2" y="211.27" text-anchor="middle" font-size="7" fill="#111">340 (0)</text>
<text x="119.65" y="211.27" text-anchor="middle" font-size="7" fill="#111">199 (30)</text>
<text x="186.1" y="211.27" text-anchor="middle" font-size="7" fill="#111">76 (45)</text>
<text x="252.55" y="211.27" text-anchor="middle" font-size="7" fill="#111">8 (51)</text>
<line x1="27.9" y1="216.44" x2="38.9" y2="216.44" stroke="#18b23c" stroke-width="1.8"/>
<text x="53.2" y="218.44" text-anchor="middle" font-size="7" fill="#111">424 (0)</text>
<text x="119.65" y="218.44" text-anchor="middle" font-size="7" fill="#111">236 (34)</text>
<text x="186.1" y="218.44" text-anchor="middle" font-size="7" fill="#111">84 (47)</text>
<text x="252.55" y="218.44" text-anchor="middle" font-size="7" fill="#111">12 (54)</text>
<line x1="27.9" y1="223.61" x2="38.9" y2="223.61" stroke="#0a98be" stroke-width="1.8"/>
<text x="53.2" y="225.61" text-anchor="middle" font-size="7" fill="#111">198 (0)</text>
<text x="119.65" y="225.61" text-anchor="middle" font-size="7" fill="#111">136 (15)</text>
<text x="186.1" y="225.61" text-anchor="middle" font-size="7" fill="#111">47 (35)</text>
<text x="252.55" y="225.61" text-anchor="middle" font-size="7" fill="#111">7 (41)</text>
<line x1="27.9" y1="230.78" x2="38.9" y2="230.78" stroke="#9850b0" stroke-width="1.8"/>
<text x="53.2" y="232.78" text-anchor="middle" font-size="7" fill="#111">59 (0)</text>
<text x="119.65" y="232.78" text-anchor="middle" font-size="7" fill="#111">36 (4)</text>
<text x="186.1" y="232.78" text-anchor="middle" font-size="7" fill="#111">10 (10)</text>
<text x="252.55" y="232.78" text-anchor="middle" font-size="7" fill="#111">0 (13)</text>
<line x1="27.9" y1="237.95" x2="38.9" y2="237.95" stroke="#fca889" stroke-width="1.8"/>
<text x="53.2" y="239.95" text-anchor="middle" font-size="7" fill="#111">34 (0)</text>
<text x="119.65" y="239.95" text-anchor="middle" font-size="7" fill="#111">21 (2)</text>
<text x="186.1" y="239.95" text-anchor="middle" font-size="7" fill="#111">6 (4)</text>
<text x="252.55" y="239.95" text-anchor="middle" font-size="7" fill="#111">0 (4)</text>
</g>
</svg>
</body></html>
